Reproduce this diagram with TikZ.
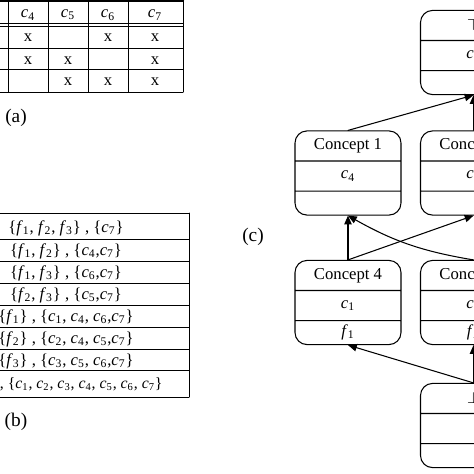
\documentclass[tikz,border=0pt]{standalone}
\usepackage{fontspec}
\setmainfont{Liberation Serif}
\usepackage{tikz}
\usetikzlibrary{arrows.meta,shapes.multipart}
\newcommand{\cobj}[1]{\textit{c}\textsubscript{#1}}
\newcommand{\fatt}[1]{\textit{f}\textsubscript{#1}}
\newcommand{\lattice}[3]{\parbox[c][0.58cm][c]{2.12cm}{\centering #1}\nodepart{two}\parbox[c][0.58cm][c]{2.12cm}{\centering #2}\nodepart{three}\parbox[c][0.46cm][c]{2.12cm}{\centering #3}}
\begin{document}
\begin{tikzpicture}[line cap=round,line join=round,>={Triangle[length=5pt,width=4.2pt]},x=0.02cm,y=-0.02cm,
    concept/.style={rectangle split,rectangle split parts=3,draw,rounded corners=0.24cm,inner sep=0pt,line width=0.6pt,font=\fontsize{9.5}{11}\selectfont},
    cell/.style={inner sep=0pt,font=\fontsize{9.5}{11}\selectfont},
    tag/.style={inner sep=0pt,font=\fontsize{11}{13}\selectfont}]
                  \useasboundingbox (0,0) rectangle (474,474);
                  \clip (0,0) rectangle (474,474);
                  \draw [line width=1.2pt] (0,0.5) -- (183,0.5);
                  \draw (0,23) -- (183,23);
                  \draw (0,26) -- (183,26);
                  \foreach \y in {48,69,92} \draw (0,\y) -- (183,\y);
                  \foreach \x in {8,48,88,128,183} \draw (\x,0) -- (\x,92);
                  \foreach \x/\i in {28/4,68/5,108/6,155/7}
                      \node[cell] (h\i) at (\x,15) {\cobj{\i}};
                  \foreach \x/\y [count=\k] in {28/38,108/38,155/38,28/61,68/61,155/61,68/82,108/82,155/82}
                      \node[cell] (x\k) at (\x,\y) {x};
                  \node[tag] (taga) at (16,118) {(a)};
                  \foreach \y in {213,239,261,283,305,327,349,370,397} \draw (0,\y) -- (189,\y);
                  \draw (189,213) -- (189,397);
                  \node[cell] (r1) at (66,228) {\{\fatt{1}, \fatt{2}, \fatt{3}\} , \{\cobj{7}\}};
                  \node[cell] (r2) at (66,251) {\{\fatt{1}, \fatt{2}\} , \{\cobj{4},\cobj{7}\}};
                  \node[cell] (r3) at (66,273) {\{\fatt{1}, \fatt{3}\} , \{\cobj{6},\cobj{7}\}};
                  \node[cell] (r4) at (66,295) {\{\fatt{2}, \fatt{3}\} , \{\cobj{5},\cobj{7}\}};
                  \node[cell] (r5) at (66,317) {\{\fatt{1}\} , \{\cobj{1}, \cobj{4}, \cobj{6},\cobj{7}\}};
                  \node[cell] (r6) at (66,339) {\{\fatt{2}\} , \{\cobj{2}, \cobj{4}, \cobj{5},\cobj{7}\}};
                  \node[cell] (r7) at (66,361) {\{\fatt{3}\} , \{\cobj{3}, \cobj{5}, \cobj{6},\cobj{7}\}};
                  \node[cell,anchor=west,font=\fontsize{9}{11}\selectfont] (r8) at (-0.5,384) {, \{\cobj{1}, \cobj{2}, \cobj{3}, \cobj{4}, \cobj{5}, \cobj{6}, \cobj{7}\}};
                  \node[tag] (tagb) at (16,422) {(b)};
                  \node[tag] (tagc) at (253,237) {(c)};
                  \node[concept] (top) at (473.5,52.5) {\lattice{$\top$}{\cobj{7}}{}};
                  \node[concept] (con1) at (348,173) {\lattice{Concept 1}{\cobj{4}}{}};
                  \node[concept] (con2) at (473.5,173) {\lattice{Concept 2}{\cobj{6}}{}};
                  \node[concept] (con4) at (348,302.5) {\lattice{Concept 4}{\cobj{1}}{\fatt{1}}};
                  \node[concept] (con5) at (473.5,302.5) {\lattice{Concept 5}{\cobj{2}}{\fatt{2}}};
                  \node[concept] (bot) at (473.5,425.5) {\lattice{$\bot$}{}{}};
                  \draw [->,line width=0.6pt] (con1.north) -- (top.south);
                  \draw [->,line width=0.6pt] (con2.north) -- (top.south);
                  \draw [->,line width=0.6pt] (con4.north) -- (con1.south);
                  \draw [->,line width=0.6pt] (con4.north) -- (con2.south);
                  \draw [->,line width=0.6pt] (con5.north) to[bend left=10] (con1.south);
                  \draw [->,line width=0.6pt] (bot.north) -- (con4.south);
                  \draw [->,line width=0.6pt] (bot.north) -- (con5.south);
              \end{tikzpicture}
\end{document}
